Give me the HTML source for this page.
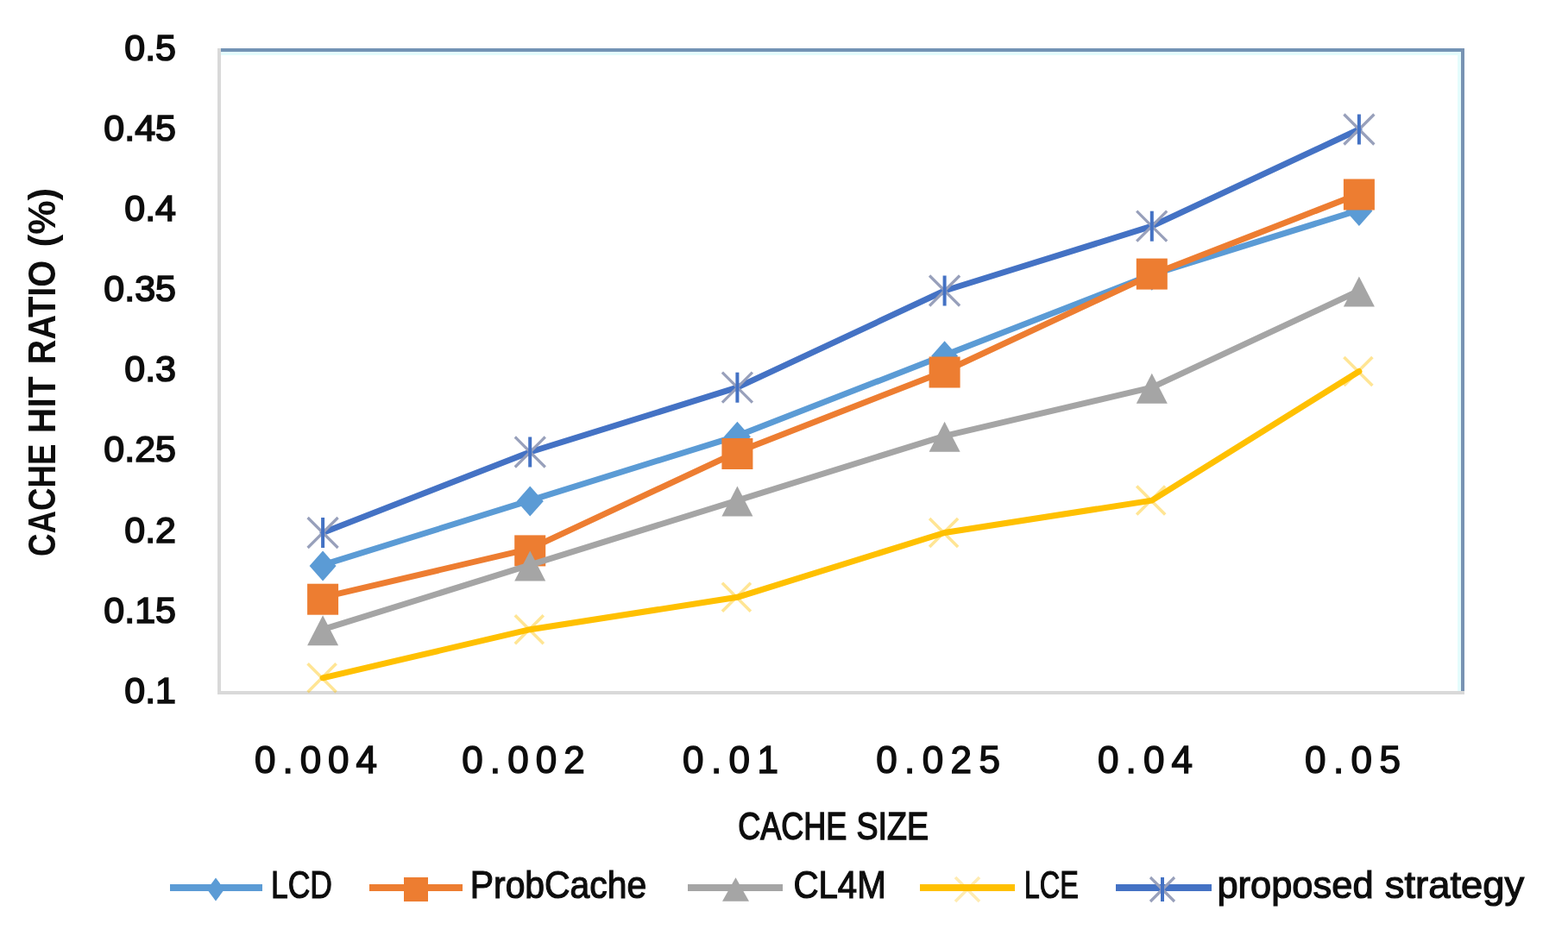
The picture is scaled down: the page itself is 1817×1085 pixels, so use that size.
<!DOCTYPE html>
<html><head><meta charset="utf-8"><title>Cache hit ratio chart</title>
<style>
html,body{margin:0;padding:0;background:#fff;}
body{width:1817px;height:1085px;overflow:hidden;}
svg{display:block;}
text{font-family:"Liberation Sans",Arial,sans-serif;fill:#0d0d0d;}
.yl{font-size:43px;text-anchor:end;stroke:#0d0d0d;stroke-width:1.7px;}
.xl{font-size:44px;stroke:#0d0d0d;stroke-width:1.5px;}
.xt{font-size:44px;stroke:#0d0d0d;stroke-width:1.5px;}
.yt{font-size:44px;font-weight:bold;}
.lg{font-size:44px;stroke:#0d0d0d;stroke-width:1.2px;}
</style></head>
<body>
<svg width="1817" height="1085" viewBox="0 0 1817 1085">
<rect width="1817" height="1085" fill="#fff"/>
<rect x="252" y="56" width="4" height="749" fill="#d9d9d9"/>
<rect x="252" y="801" width="1445" height="4" fill="#d9d9d9"/>
<rect x="256" y="60" width="1437" height="4" fill="#e4fcfc"/>
<rect x="1689" y="60" width="4" height="741" fill="#e4fcfc"/>
<rect x="256" y="56" width="1441" height="4" fill="#7393b5"/>
<rect x="1693" y="56" width="4" height="745" fill="#7893b3"/>
<text class="yl" x="204" y="814.7">0.1</text>
<text class="yl" x="204" y="721.6">0.15</text>
<text class="yl" x="204" y="628.5">0.2</text>
<text class="yl" x="204" y="535.3">0.25</text>
<text class="yl" x="204" y="442.2">0.3</text>
<text class="yl" x="204" y="349.1">0.35</text>
<text class="yl" x="204" y="255.9">0.4</text>
<text class="yl" x="204" y="162.8">0.45</text>
<text class="yl" x="204" y="69.7">0.5</text>
<polyline points="374.1,654.9 614.2,580.1 854.4,505.3 1094.6,411.8 1334.8,318.3 1574.9,243.5" fill="none" stroke="#5b9bd5" stroke-width="7" stroke-linejoin="round" stroke-linecap="round"/>
<path d="M374.1 638.4L389.6 655.9L374.1 673.4L358.6 655.9Z" fill="#5b9bd5"/>
<path d="M614.2 563.6L629.8 581.1L614.2 598.6L598.8 581.1Z" fill="#5b9bd5"/>
<path d="M854.4 488.8L869.9 506.3L854.4 523.8L838.9 506.3Z" fill="#5b9bd5"/>
<path d="M1094.6 395.3L1110.1 412.8L1094.6 430.3L1079.1 412.8Z" fill="#5b9bd5"/>
<path d="M1334.8 301.8L1350.2 319.3L1334.8 336.8L1319.2 319.3Z" fill="#5b9bd5"/>
<path d="M1574.9 227.0L1590.4 244.5L1574.9 262.0L1559.4 244.5Z" fill="#5b9bd5"/>
<polyline points="374.1,692.3 614.2,636.2 854.4,524.0 1094.6,430.5 1334.8,318.3 1574.9,224.8" fill="none" stroke="#ed7d31" stroke-width="7" stroke-linejoin="round" stroke-linecap="round"/>
<rect x="356.1" y="676.7" width="36" height="36" fill="#ed7d31"/>
<rect x="596.2" y="620.4" width="36" height="36" fill="#ed7d31"/>
<rect x="836.4" y="508.0" width="36" height="36" fill="#ed7d31"/>
<rect x="1076.6" y="413.5" width="36" height="36" fill="#ed7d31"/>
<rect x="1316.8" y="299.6" width="36" height="36" fill="#ed7d31"/>
<rect x="1556.9" y="207.5" width="36" height="36" fill="#ed7d31"/>
<polyline points="374.1,729.7 614.2,654.9 854.4,580.1 1094.6,505.3 1334.8,449.2 1574.9,337.0" fill="none" stroke="#a5a5a5" stroke-width="7" stroke-linejoin="round" stroke-linecap="round"/>
<path d="M374.1 713.2L392.1 748.2L356.1 748.2Z" fill="#a5a5a5"/>
<path d="M614.2 638.4L632.2 673.4L596.2 673.4Z" fill="#a5a5a5"/>
<path d="M854.4 563.6L872.4 598.6L836.4 598.6Z" fill="#a5a5a5"/>
<path d="M1094.6 488.8L1112.6 523.8L1076.6 523.8Z" fill="#a5a5a5"/>
<path d="M1334.8 432.7L1352.8 467.7L1316.8 467.7Z" fill="#a5a5a5"/>
<path d="M1574.9 320.5L1592.9 355.5L1556.9 355.5Z" fill="#a5a5a5"/>
<polyline points="374.1,785.8 614.2,729.7 854.4,692.3 1094.6,617.5 1334.8,580.1 1574.9,430.5" fill="none" stroke="#ffc000" stroke-width="7" stroke-linejoin="round" stroke-linecap="round"/>
<path d="M356.6 769.3L389.6 802.3M389.6 769.3L356.6 802.3" stroke="#ffc000" stroke-width="3.6" stroke-opacity="0.42" fill="none"/>
<path d="M596.8 713.2L629.8 746.2M629.8 713.2L596.8 746.2" stroke="#ffc000" stroke-width="3.6" stroke-opacity="0.42" fill="none"/>
<path d="M836.9 675.8L869.9 708.8M869.9 675.8L836.9 708.8" stroke="#ffc000" stroke-width="3.6" stroke-opacity="0.42" fill="none"/>
<path d="M1077.1 601.0L1110.1 634.0M1110.1 601.0L1077.1 634.0" stroke="#ffc000" stroke-width="3.6" stroke-opacity="0.42" fill="none"/>
<path d="M1317.2 563.6L1350.2 596.6M1350.2 563.6L1317.2 596.6" stroke="#ffc000" stroke-width="3.6" stroke-opacity="0.42" fill="none"/>
<path d="M1557.4 414.0L1590.4 447.0M1590.4 414.0L1557.4 447.0" stroke="#ffc000" stroke-width="3.6" stroke-opacity="0.42" fill="none"/>
<polyline points="374.1,617.5 614.2,524.0 854.4,449.2 1094.6,337.0 1334.8,262.2 1574.9,150.0" fill="none" stroke="#4472c4" stroke-width="7" stroke-linejoin="round" stroke-linecap="round"/>
<path d="M356.6 600.0L391.6 635.0M391.6 600.0L356.6 635.0" stroke="#98a0bb" stroke-width="3.2" fill="none"/><path d="M374.1 600.0L374.1 635.0" stroke="#4472c4" stroke-width="4" fill="none"/>
<path d="M596.8 506.5L631.8 541.5M631.8 506.5L596.8 541.5" stroke="#98a0bb" stroke-width="3.2" fill="none"/><path d="M614.2 506.5L614.2 541.5" stroke="#4472c4" stroke-width="4" fill="none"/>
<path d="M836.9 431.7L871.9 466.7M871.9 431.7L836.9 466.7" stroke="#98a0bb" stroke-width="3.2" fill="none"/><path d="M854.4 431.7L854.4 466.7" stroke="#4472c4" stroke-width="4" fill="none"/>
<path d="M1077.1 319.5L1112.1 354.5M1112.1 319.5L1077.1 354.5" stroke="#98a0bb" stroke-width="3.2" fill="none"/><path d="M1094.6 319.5L1094.6 354.5" stroke="#4472c4" stroke-width="4" fill="none"/>
<path d="M1317.2 244.7L1352.2 279.7M1352.2 244.7L1317.2 279.7" stroke="#98a0bb" stroke-width="3.2" fill="none"/><path d="M1334.8 244.7L1334.8 279.7" stroke="#4472c4" stroke-width="4" fill="none"/>
<path d="M1557.4 132.5L1592.4 167.5M1592.4 132.5L1557.4 167.5" stroke="#98a0bb" stroke-width="3.2" fill="none"/><path d="M1574.9 132.5L1574.9 167.5" stroke="#4472c4" stroke-width="4" fill="none"/>
<text class="xl" x="295.00" y="896" textLength="142.00" lengthAdjust="spacing">0.004</text>
<text class="xl" x="535.20" y="896" textLength="142.60" lengthAdjust="spacing">0.002</text>
<text class="xl" x="791.00" y="896" textLength="111.00" lengthAdjust="spacing">0.01</text>
<text class="xl" x="1015.20" y="896" textLength="143.80" lengthAdjust="spacing">0.025</text>
<text class="xl" x="1272.00" y="896" textLength="110.00" lengthAdjust="spacing">0.04</text>
<text class="xl" x="1512.00" y="896" textLength="111.00" lengthAdjust="spacing">0.05</text>
<text class="xt" x="855.20" y="973" textLength="126.20" lengthAdjust="spacingAndGlyphs">CACHE</text>
<text class="xt" x="992.60" y="973" textLength="83.40" lengthAdjust="spacingAndGlyphs">SIZE</text>
<text class="lg" x="314.00" y="1041" textLength="71.00" lengthAdjust="spacingAndGlyphs">LCD</text>
<text class="lg" x="544.80" y="1041" textLength="204.40" lengthAdjust="spacingAndGlyphs">ProbCache</text>
<text class="lg" x="919.40" y="1041" textLength="107.40" lengthAdjust="spacingAndGlyphs">CL4M</text>
<text class="lg" x="1186.80" y="1041" textLength="63.00" lengthAdjust="spacingAndGlyphs">LCE</text>
<text class="lg" x="1410.40" y="1041" textLength="181.20" lengthAdjust="spacingAndGlyphs">proposed</text>
<text class="lg" x="1604.80" y="1041" textLength="161.40" lengthAdjust="spacingAndGlyphs">strategy</text>
<text class="yt" transform="translate(64,645.00) rotate(-90)" textLength="130.60" lengthAdjust="spacingAndGlyphs">CACHE</text>
<text class="yt" transform="translate(64,502.20) rotate(-90)" textLength="66.00" lengthAdjust="spacingAndGlyphs">HIT</text>
<text class="yt" transform="translate(64,422.60) rotate(-90)" textLength="120.80" lengthAdjust="spacingAndGlyphs">RATIO</text>
<text class="yt" transform="translate(64,286.60) rotate(-90)" textLength="68.80" lengthAdjust="spacingAndGlyphs">(%)</text>
<rect x="197" y="1025" width="107" height="8" fill="#5b9bd5"/>
<path d="M250.0 1017.5L260.0 1031.0L250.0 1044.5L240.0 1031.0Z" fill="#5b9bd5"/>
<rect x="428" y="1025" width="108" height="8" fill="#ed7d31"/>
<rect x="468.0" y="1017.0" width="28" height="28" fill="#ed7d31"/>
<rect x="797" y="1025" width="110" height="8" fill="#a5a5a5"/>
<path d="M852.5 1017.2L868.0 1044.8L837.0 1044.8Z" fill="#a5a5a5"/>
<rect x="1066" y="1025" width="110" height="8" fill="#ffc000"/>
<path d="M1107.0 1017.0L1135.0 1045.0M1135.0 1017.0L1107.0 1045.0" stroke="#ffc000" stroke-width="3.6" stroke-opacity="0.3" fill="none"/>
<rect x="1293" y="1025" width="111" height="8" fill="#4472c4"/>
<path d="M1333.0 1017.0L1361.0 1045.0M1361.0 1017.0L1333.0 1045.0" stroke="#98a0bb" stroke-width="3.2" fill="none"/><path d="M1347.0 1017.0L1347.0 1045.0" stroke="#4472c4" stroke-width="4" fill="none"/>
</svg>
</body></html>
